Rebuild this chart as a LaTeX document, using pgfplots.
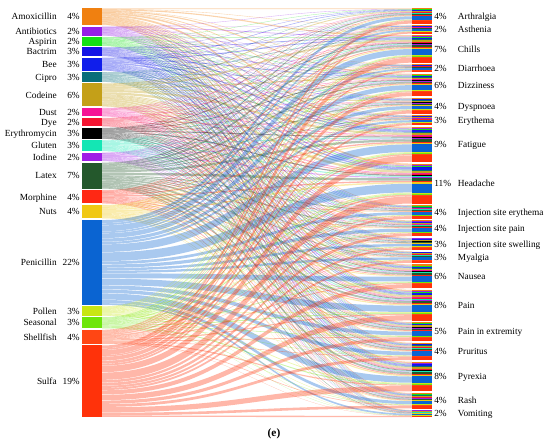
\documentclass[border=0pt]{standalone}
\usepackage{pgfplots}
\pgfplotsset{compat=1.18}
\usepackage{pgfplotstable}
\usepackage{fontspec}
\setmainfont{Liberation Serif}

% ---- a plot handler that joins consecutive points with Sankey curves ----
\makeatletter
\newif\ifsk@started
\newdimen\skx \newdimen\sky \newdimen\skm \newdimen\sklx \newdimen\skly
\def\pgfplothandlersankey{%
  \def\pgf@plotstreamstart{%
    \global\sk@startedfalse
    \global\let\pgf@plotstreampoint=\sk@point
    \global\let\pgf@plotstreamspecial=\pgfutil@gobble
    \global\let\pgf@plotstreamend=\relax
  }%
}
\def\sk@point#1{%
  \pgf@process{#1}%
  \skx=\pgf@x \sky=\pgf@y
  \ifsk@started
    \skm=0.5\skx \advance\skm by 0.5\sklx
    \pgfpathcurveto{\pgfqpoint{\skm}{\skly}}{\pgfqpoint{\skm}{\sky}}{\pgfqpoint{\skx}{\sky}}%
  \else
    \pgfpathmoveto{\pgfqpoint{\skx}{\sky}}%
    \global\sk@startedtrue
  \fi
  \global\sklx=\skx \global\skly=\sky
}
\tikzset{sankey/.code={\let\tikz@plot@handler=\pgfplothandlersankey}}
\makeatother

\newcommand\lbl{\fontsize{7}{8}\selectfont}

\definecolor{src0}{RGB}{240,128,16}
\definecolor{src1}{RGB}{150,30,230}
\definecolor{src2}{RGB}{20,224,20}
\definecolor{src3}{RGB}{20,20,230}
\definecolor{src4}{RGB}{16,30,235}
\definecolor{src5}{RGB}{10,110,122}
\definecolor{src6}{RGB}{196,160,24}
\definecolor{src7}{RGB}{245,20,150}
\definecolor{src8}{RGB}{245,20,50}
\definecolor{src9}{RGB}{0,0,0}
\definecolor{src10}{RGB}{20,230,180}
\definecolor{src11}{RGB}{160,30,230}
\definecolor{src12}{RGB}{36,88,44}
\definecolor{src13}{RGB}{255,40,20}
\definecolor{src14}{RGB}{240,200,20}
\definecolor{src15}{RGB}{10,100,210}
\definecolor{src16}{RGB}{200,230,20}
\definecolor{src17}{RGB}{110,230,10}
\definecolor{src18}{RGB}{255,70,20}
\definecolor{src19}{RGB}{255,50,10}

% allergies (left nodes): label percent and node height in px
\pgfplotstableread[col sep=comma]{
name,pct,h
Amoxicillin,4,16.7
Antibiotics,2,9
Aspirin,2,8.7
Bactrim,3,8.7
Bee,3,13
Cipro,3,9.7
Codeine,6,23
Dust,2,8.4
Dye,2,8.4
Erythromycin,3,11
Gluten,3,10.7
Iodine,2,8.4
Latex,7,26
Morphine,4,13.3
Nuts,4,13.3
Penicillin,22,85
Pollen,3,9.3
Seasonal,3,11
Shellfish,4,14
Sulfa,19,71.4
}\srctab

% adverse events (right nodes)
\pgfplotstableread[col sep=comma]{
name,pct,h
Arthralgia,4,15.5
Asthenia,2,8.3
Chills,7,27.7
Diarrhoea,2,7.6
Dizziness,6,22.7
Dyspnoea,4,15.9
Erythema,3,9.9
Fatigue,9,35.2
Headache,11,40.2
Injection site erythema,4,13.6
Injection site pain,4,15.9
Injection site swelling,3,12.1
Myalgia,3,11.4
Nausea,6,23.9
Pain,8,30.7
Pain in extremity,5,19.0
Pruritus,4,17.5
Pyrexia,8,29.7
Rash,4,15.5
Vomiting,2,7.2
}\tgttab

% flows: rows = allergies, columns = adverse events (relative sizes)
\pgfplotstableread[header=false]{
2 1 3 1 3 2 1 4 5 1.5 2 1.5 1 3 3.5 2 2 3.5 2 1
1 0.5 2 0.5 1.5 1 0.5 2 2.5 1 1 1 0.5 1.5 2 1 1 2 1 0.5
1 0.5 1.5 0.5 1.5 1 0.5 2 2.5 1 1 0.5 1 1.5 2 1 1 1.5 1 0.5
1 0.5 2 0.5 1.5 1 1 2.5 2.5 1 1 1 0.5 1.5 2 1.5 1 2 1 0.5
1.5 1 2.5 0.5 2 1.5 1 3 3.5 1 1.5 1 1 2 3 1.5 1.5 2.5 1.5 0.5
1 0.5 2 0.5 1.5 1 0.5 2.5 3 1 1 1 1 1.5 2 1.5 1 2 1 0.5
2.5 1.5 4.5 1 3.5 2.5 1.5 6 6.5 2 2.5 2 2 4 5 3 2.5 4.5 2.5 1
1 0.5 1.5 0.5 1.5 1 0.5 2 2.5 0.5 1 0.5 0.5 1.5 2 1 1 1.5 1 0.5
1 0.5 1.5 0.5 1 1 0.5 2 2.5 1 1 0.5 1 1.5 1.5 1 1 2 1 0.5
1 0.5 2 0.5 2 1 1 2.5 3 1 1 1 1 2 2.5 1.5 1.5 2 1 0.5
1 0.5 2 0.5 1.5 1 0.5 2.5 3 1 1.5 1 1 2 2.5 1.5 1 2 1 0.5
1 0.5 1.5 0.5 1.5 1 0.5 2 2.5 1 1 0.5 0.5 1.5 2 1 1 1.5 1 0.5
3 1.5 5 1.5 4 3 2 6.5 7 2.5 3 2 2 4.5 5.5 3.5 3 5 3 1.5
1.5 1 2.5 0.5 2 1.5 1 3.5 3.5 1.5 1.5 1 1 2 3 2 1.5 2.5 1.5 0.5
1.5 0.5 2.5 1 2 1.5 1 3 4 1 1.5 1 1 2.5 3 1.5 1.5 3 1.5 0.5
9 5 16.5 4.5 13.5 9.5 6 21 24 8 9.5 7 6.5 14 18 11 10 17 9 4.5
1 0.5 2 0.5 1.5 1 0.5 2.5 2.5 1 1 1 0.5 1.5 2 1.5 1 2 1 0.5
1 0.5 2 0.5 2 1 1 2.5 3 1 1 1 1 2 2.5 1.5 1 2.5 1 0.5
1.5 1 2.5 0.5 2 1.5 1 3.5 4 1.5 1.5 1 1 2.5 3 2 1.5 3 1.5 0.5
8 4 14 3.5 11 8 5 17.5 20 7 8 6 5.5 12 15 9.5 8 14.5 7.5 3.5
}\flows

\begin{document}
\begin{tikzpicture}
\begin{axis}[
  scale only axis, width=412.5pt, height=334.5pt,
  xmin=0, xmax=550, ymin=0, ymax=446, y dir=reverse,
  hide axis, clip=false,
]
\addplot[draw=none, forget plot] coordinates {(0,0) (550,446)};

% --- node tops, sizes, row and column sums ---
\gdef\acc{8.3}
\foreach \i in {0,...,19}{%
  \expandafter\xdef\csname st\i\endcsname{\acc}%
  \expandafter\xdef\csname so\i\endcsname{0}%
  \pgfplotstablegetelem{\i}{h}\of\srctab
  \expandafter\xdef\csname sh\i\endcsname{\pgfplotsretval}%
  \pgfmathparse{\acc+\pgfplotsretval+1.55}\xdef\acc{\pgfmathresult}%
}
\gdef\acc{8.3}
\foreach \j in {0,...,19}{%
  \expandafter\xdef\csname tt\j\endcsname{\acc}%
  \expandafter\xdef\csname to\j\endcsname{0}%
  \pgfplotstablegetelem{\j}{h}\of\tgttab
  \expandafter\xdef\csname th\j\endcsname{\pgfplotsretval}%
  \pgfmathparse{\acc+\pgfplotsretval+1.55}\xdef\acc{\pgfmathresult}%
}
\foreach \i in {0,...,19}{%
  \gdef\acc{0}%
  \foreach \j in {0,...,19}{%
    \pgfplotstablegetelem{\i}{[index]\j}\of\flows
    \pgfmathparse{\acc+\pgfplotsretval}\xdef\acc{\pgfmathresult}%
  }%
  \expandafter\xdef\csname rs\i\endcsname{\acc}%
}
\foreach \j in {0,...,19}{%
  \gdef\acc{0}%
  \foreach \i in {0,...,19}{%
    \pgfplotstablegetelem{\i}{[index]\j}\of\flows
    \pgfmathparse{\acc+\pgfplotsretval}\xdef\acc{\pgfmathresult}%
  }%
  \expandafter\xdef\csname cs\j\endcsname{\acc}%
}

% --- flows and right-node segments ---
\foreach \i in {0,...,19}{%
  \foreach \j in {0,...,19}{%
    \pgfplotstablegetelem{\i}{[index]\j}\of\flows
    \edef\skF{\pgfplotsretval}%
    \edef\skRS{\csname rs\i\endcsname}\edef\skSH{\csname sh\i\endcsname}%
    \edef\skCS{\csname cs\j\endcsname}\edef\skTH{\csname th\j\endcsname}%
    \edef\skST{\csname st\i\endcsname}\edef\skSO{\csname so\i\endcsname}%
    \edef\skTT{\csname tt\j\endcsname}\edef\skTO{\csname to\j\endcsname}%
    \pgfmathsetmacro\skL{\skF/\skRS*\skSH}%
    \pgfmathsetmacro\skR{\skF/\skCS*\skTH}%
    \pgfmathsetmacro\skLT{\skST+\skSO}%
    \pgfmathsetmacro\skRT{\skTT+\skTO}%
    \pgfmathsetmacro\skLB{\skLT+\skL}%
    \pgfmathsetmacro\skRB{\skRT+\skR}%
    \pgfmathsetmacro\skIL{max(0,min(0.2,0.1*(\skL-1.5)))}%
    \pgfmathsetmacro\skIR{max(0,min(0.2,0.1*(\skR-1.5)))}%
    \pgfmathsetmacro\skLTT{\skLT+\skIL}\pgfmathsetmacro\skLBB{\skLB-\skIL}%
    \pgfmathsetmacro\skRTT{\skRT+\skIR}\pgfmathsetmacro\skRBB{\skRB-\skIR}%
    \pgfmathparse{\skSO+\skL}\expandafter\xdef\csname so\i\endcsname{\pgfmathresult}%
    \pgfmathparse{\skTO+\skR}\expandafter\xdef\csname to\j\endcsname{\pgfmathresult}%
    \edef\temp{\noexpand\addplot[sankey, draw=none, fill=src\i, fill opacity=0.35, forget plot]
        coordinates {(102,\skLTT) (412,\skRTT) (412,\skRBB) (102,\skLBB)};%
      \noexpand\addplot[draw=none, fill=src\i, forget plot]
        coordinates {(412,\skRT) (432,\skRT) (432,\skRB) (412,\skRB)};}%
    \temp
  }%
}

% --- left nodes and labels ---
\foreach \i in {0,...,19}{%
  \edef\skST{\csname st\i\endcsname}\edef\skSH{\csname sh\i\endcsname}%
  \pgfmathsetmacro\skB{\skST+\skSH}%
  \pgfmathsetmacro\skY{\skST+0.5*\skSH+3.2}%
  \pgfplotstablegetelem{\i}{name}\of\srctab \edef\skN{\pgfplotsretval}%
  \pgfplotstablegetelem{\i}{pct}\of\srctab \edef\skP{\pgfplotsretval}%
  \edef\temp{\noexpand\addplot[draw=none, fill=src\i, forget plot]
      coordinates {(82,\skST) (102,\skST) (102,\skB) (82,\skB)};%
    \noexpand\node[anchor=base east, inner sep=0pt, font=\noexpand\lbl] at (axis cs:57,\skY) {\skN};%
    \noexpand\node[anchor=base east, inner sep=0pt, font=\noexpand\lbl] at (axis cs:80,\skY) {\skP\noexpand\%};}%
  \temp
}
% --- right labels ---
\foreach \j in {0,...,19}{%
  \edef\skTT{\csname tt\j\endcsname}\edef\skTH{\csname th\j\endcsname}%
  \pgfmathsetmacro\skY{\skTT+0.5*\skTH+3.2}%
  \pgfplotstablegetelem{\j}{name}\of\tgttab \edef\skN{\pgfplotsretval}%
  \pgfplotstablegetelem{\j}{pct}\of\tgttab \edef\skP{\pgfplotsretval}%
  \edef\temp{%
    \noexpand\node[anchor=base west, inner sep=0pt, font=\noexpand\lbl] at (axis cs:434,\skY) {\skP\noexpand\%};%
    \noexpand\node[anchor=base west, inner sep=0pt, font=\noexpand\lbl] at (axis cs:457.7,\skY) {\skN};}%
  \temp
}
\node[font=\fontsize{8.5}{10}\selectfont\bfseries] at (axis cs:274,434) {(e)};
\end{axis}
\end{tikzpicture}
\end{document}
